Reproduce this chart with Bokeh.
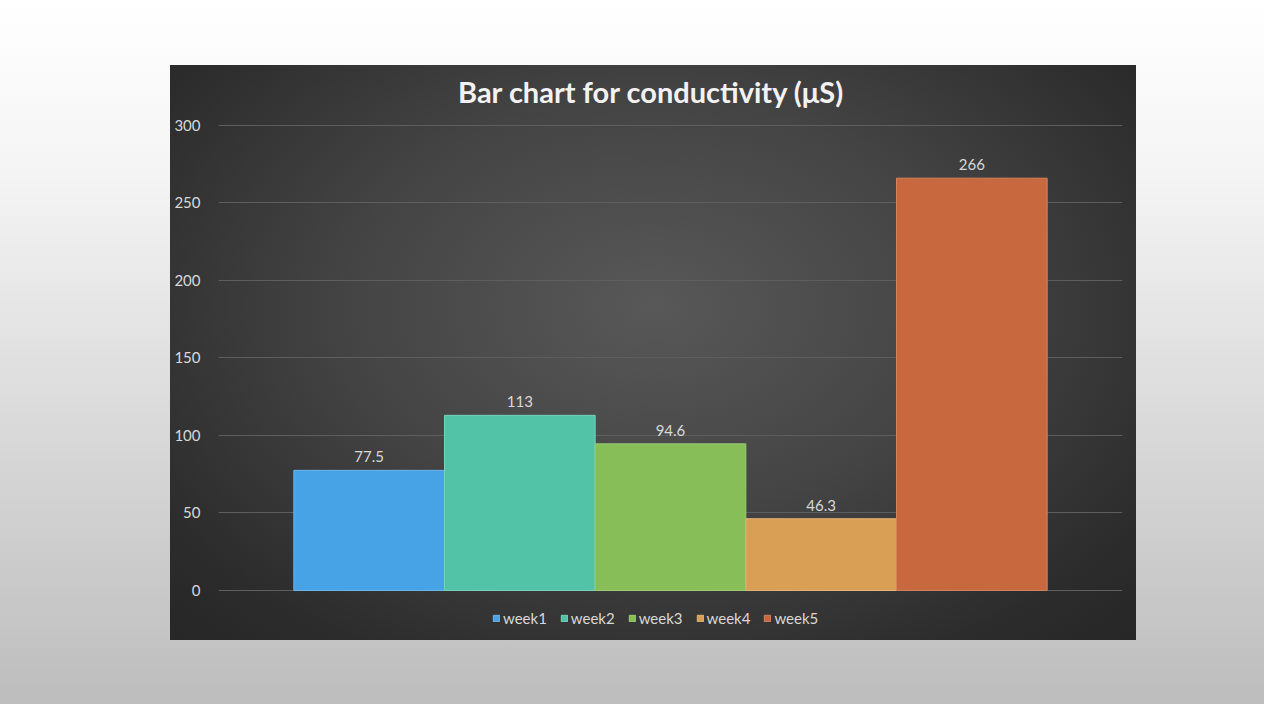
from bokeh.plotting import figure
from bokeh.models import ColumnDataSource, LabelSet, Legend, LegendItem, Range1d, Spacer, Label
from bokeh.layouts import column, row
from bokeh.core.properties import value
from bokeh.embed import file_html
from bokeh.resources import INLINE

title_text = "Bar chart for conductivity (\u03bcS)"
weeks = ["week1", "week2", "week3", "week4", "week5"]
values = [77.5, 113, 94.6, 46.3, 266]
value_labels = ["77.5", "113", "94.6", "46.3", "266"]
colors = ["#47a3e6", "#52c3a6", "#88be58", "#d99f55", "#c8683e"]
edge_colors = ["#6cb4ee", "#76d3bc", "#9ccb78", "#e2b377", "#d4835e"]
y_ticks = [0, 50, 100, 150, 200, 250, 300]

positions = [i + 1 for i in range(len(weeks))]
source = ColumnDataSource(dict(x=positions, value=values, label=value_labels,
                               week=weeks, color=colors, edge=edge_colors))

FONT = "Lato"
TXT = "#d9d9d9"

p = figure(width=966, height=575, x_range=Range1d(0, 6), y_range=Range1d(-27.1, 338.7),
           output_backend="svg", toolbar_location=None,
           min_border_left=48, min_border_right=14, min_border_top=0, min_border_bottom=8,
           styles={"background": "radial-gradient(ellipse 70% 80% at 50% 42%, #585858 0%, #444444 45%, #2c2c2c 85%, #272727 100%)"})
p.border_fill_alpha = 0
p.background_fill_alpha = 0
p.outline_line_alpha = 0
p.title.visible = False

title = Label(x=433, y=541, x_units="screen", y_units="screen", text=title_text,
              text_align="center", text_baseline="middle", text_font=FONT,
              text_font_style="bold", text_font_size="29px", text_color="#f2f2f2")
p.add_layout(title)

r = p.vbar(x="x", top="value", width=1.0, bottom=0, source=source,
           fill_color="color", line_color="edge", line_width=1)

labels = LabelSet(x="x", y="value", text="label", source=source, y_offset=8,
                  text_align="center", text_baseline="bottom", text_color=TXT,
                  text_font=value(FONT), text_font_size="15px")
p.add_layout(labels)

p.xaxis.visible = False
p.xgrid.grid_line_color = None
p.ygrid.grid_line_color = "#5e5e5e"
p.ygrid.grid_line_width = 1

ya = p.yaxis[0]
ya.ticker = y_ticks
ya.axis_line_color = None
ya.major_tick_line_color = None
ya.minor_tick_line_color = None
ya.major_label_text_color = TXT
ya.major_label_text_font = FONT
ya.major_label_text_font_size = "15px"
ya.major_label_standoff = 12

legend = Legend(items=[LegendItem(label=w, renderers=[r], index=i) for i, w in enumerate(weeks)],
                orientation="horizontal", location=(274, 5),
                background_fill_alpha=0, border_line_alpha=0,
                label_text_color=TXT, label_text_font=FONT, label_text_font_size="15px",
                glyph_width=8, glyph_height=8, label_standoff=3, spacing=13,
                padding=0, margin=0, label_height=16)
p.add_layout(legend)

layout = column(Spacer(height=65), row(Spacer(width=170), p),
                width=1264, height=704, sizing_mode="fixed",
                styles={"background": "linear-gradient(to bottom, #ffffff 0%, #f4f4f4 25%, #d6d6d6 65%, #bdbdbd 100%)"})

open("out.html", "w").write(file_html(layout, INLINE))
